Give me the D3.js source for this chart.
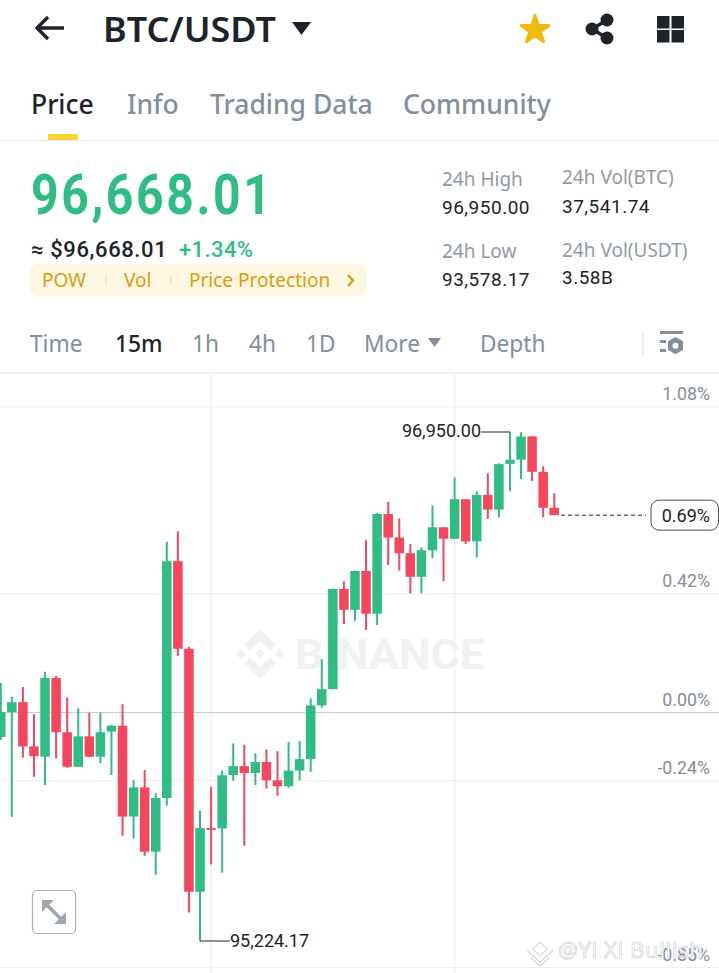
<!DOCTYPE html>
<html>
<head>
<meta charset="utf-8">
<script src="https://cdnjs.cloudflare.com/ajax/libs/d3/7.8.5/d3.min.js"></script>
<style>
  html, body { margin: 0; padding: 0; background: #fff; }
  svg { display: block; }
  text { font-family: "Noto Sans", Roboto, sans-serif; }
  .plot text, .num { font-family: Roboto, "Noto Sans", sans-serif; }
</style>
</head>
<body>
<svg id="app" width="719" height="973"></svg>
<script>
// 15m candles
var opens = [95916,96000,96034,95884,95849,96116,95932,95815,95918,95849,95934,95954,95646,95745,95527,95709,96512,96215,95391,95607,95606,95787,95817,95794,95831,95769,95749,95802,95841,96023,96078,96418,96347,96479,96334,96672,96592,96539,96459,96549,96627,96588,96722,96579,96737,96687,96842,96856,96935,96815,96693];
var closes = [96000,96034,95884,95851,96116,95932,95815,95918,95849,95932,95954,95646,95745,95527,95709,96512,96215,95391,95607,95601,95786,95817,95794,95831,95769,95749,95802,95841,96023,96078,96418,96347,96479,96334,96672,96592,96539,96459,96549,96627,96588,96722,96579,96737,96687,96841,96856,96935,96815,96693,96668.01];
var highs = [96099,96052,96085,95993,96137,96123,96050,96013,95998,95998,95957,96027,95770,95804,95725,96578,96613,96222,95666,95747,95802,95894,95890,95861,95874,95868,95899,95902,96047,96179,96419,96444,96480,96583,96675,96713,96657,96570,96559,96701,96627,96796,96722,96749,96810,96844,96950,96949,96936,96834,96742];
var lows = [95906,95645,95846,95781,95753,95843,95811,95815,95847,95827,95787,95581,95571,95513,95449,95683,96191,95321,95224.17,95484,95456,95768,95547,95753,95741,95717,95744,95769,95798,96015,96078,96299,96310,96279,96295,96499,96480,96403,96403,96522,96444,96588,96570,96524,96655,96661,96749,96790,96784,96661,96668];

var gridPrices = [97037,96404,96000.6,95770,95136];
var gridLabels = ["1.08%","0.42%","0.00%","-0.24%","-0.85%"];
var verticalAt = [19,41];

var tabs = ["Price","Info","Trading Data","Community"];
var tabX = [31,127,210,403];
var intervals = ["Time","15m","1h","4h","1D","More","Depth"];
var intervalX = [30,115,192,249,306,364,480];
var pillItems = ["POW","Vol","Price Protection"];
var pillX = [42,124,189];
var statLabels = ["24h High","24h Low","24h Vol(BTC)","24h Vol(USDT)"];
var statValues = ["96,950.00","93,578.17","37,541.74","3.58B"];

var GREEN = "#2EBD85", RED = "#F6465D", DARK = "#1E2329", GREY = "#848E9C";

var svg = d3.select("#app");

var candles = opens.map(function (o, i) {
    return {i: i, open: o, close: closes[i], high: highs[i], low: lows[i]};
});

// ---- header
var header = svg.append("g");

header.append("path").attr("d", "M64 28H38M48 17L37 28L48 39")
    .attr("fill", "none").attr("stroke", DARK).attr("stroke-width", 3.4);
header.append("text").attr("x", 103).attr("y", 42).text("BTC/USDT")
    .attr("font-size", 34).attr("font-weight", 600).attr("fill", DARK)
    .attr("textLength", 173).attr("lengthAdjust", "spacingAndGlyphs");
header.append("path").attr("d", "M292 22H311L301.5 35Z").attr("fill", DARK);

var star = d3.symbol().type(d3.symbolStar).size(235);
header.append("path").attr("d", star()).attr("transform", "translate(535,30)")
    .attr("fill", "#F0B90B").attr("stroke", "#F0B90B").attr("stroke-width", 3).attr("stroke-linejoin", "round");

var share = header.append("g").attr("fill", DARK);
share.append("path").attr("d", "M607 20L592 29L607 38").attr("fill", "none").attr("stroke", DARK).attr("stroke-width", 3.5);
share.append("circle").attr("cx", 592).attr("cy", 29).attr("r", 6.5);
share.append("circle").attr("cx", 607).attr("cy", 20).attr("r", 6.5);
share.append("circle").attr("cx", 607).attr("cy", 38).attr("r", 6.5);

[[657,16],[671.5,16],[657,30],[671.5,30]].forEach(function (p) {
    header.append("rect").attr("x", p[0]).attr("y", p[1]).attr("width", 12.5).attr("height", 12.5).attr("fill", DARK);
});

// tabs
svg.selectAll(".tab").data(tabs).enter().append("text")
    .attr("class", "tab")
    .attr("x", function (d, i) { return tabX[i]; })
    .attr("y", 114)
    .attr("font-size", 26.5)
    .attr("font-weight", 500)
    .attr("fill", function (d, i) { return i == 0 ? DARK : GREY; })
    .text(function (d) { return d; });
svg.append("rect").attr("x", 48).attr("y", 134).attr("width", 30).attr("height", 6).attr("fill", "#FCD535");
svg.append("rect").attr("x", 0).attr("y", 140).attr("width", 719).attr("height", 1).attr("fill", "#EAECEF");

// price block
svg.append("text").attr("class", "num").text("96,668.01")
    .attr("transform", "translate(31,214) scale(0.86,1)")
    .attr("font-size", 56).attr("font-weight", 700).attr("fill", GREEN)
    .style("letter-spacing", "3px");
svg.append("text").attr("class", "num").attr("x", 31).attr("y", 257).text("≈ $96,668.01")
    .attr("font-size", 22).attr("font-weight", 500).attr("fill", DARK).style("letter-spacing", "0.6px");
svg.append("text").attr("class", "num").attr("x", 179).attr("y", 257).text("+1.34%")
    .attr("font-size", 22).attr("font-weight", 500).attr("fill", GREEN).style("letter-spacing", "0.4px");

svg.append("rect").attr("x", 30).attr("y", 264).attr("width", 337).attr("height", 32).attr("rx", 8).attr("fill", "#FDF6E3");
svg.selectAll(".pill").data(pillItems).enter().append("text")
    .attr("class", "pill")
    .attr("x", function (d, i) { return pillX[i]; })
    .attr("y", 287)
    .attr("font-size", 19)
    .attr("fill", "#D89F0A")
    .text(function (d) { return d; });
[105,170].forEach(function (x) {
    svg.append("rect").attr("x", x).attr("y", 275).attr("width", 1.5).attr("height", 10).attr("fill", "#F3E3B5");
});
svg.append("path").attr("d", "M348 275L353 280.5L348 286").attr("fill", "none").attr("stroke", "#D89F0A").attr("stroke-width", 2.4);

// 24h stats
var statX = [442,442,562,562], statLabelY = [186,258,184,257], statValueY = [214,286,213,284];
svg.selectAll(".statLabel").data(statLabels).enter().append("text")
    .attr("class", "statLabel")
    .attr("x", function (d, i) { return statX[i]; })
    .attr("y", function (d, i) { return statLabelY[i]; })
    .attr("font-size", 19)
    .attr("fill", "#929AA5")
    .text(function (d) { return d; });
svg.selectAll(".statValue").data(statValues).enter().append("text")
    .attr("class", "statValue num")
    .attr("x", function (d, i) { return statX[i]; })
    .attr("y", function (d, i) { return statValueY[i]; })
    .attr("font-size", 19)
    .attr("fill", DARK)
    .style("letter-spacing", "0.5px")
    .text(function (d) { return d; });

// interval row
svg.selectAll(".interval").data(intervals).enter().append("text")
    .attr("class", "interval")
    .attr("x", function (d, i) { return intervalX[i]; })
    .attr("y", 352)
    .attr("font-size", 22.7)
    .attr("font-weight", function (d) { return d == "15m" ? 500 : 400; })
    .attr("fill", function (d) { return d == "15m" ? DARK : GREY; })
    .text(function (d) { return d; });
svg.append("path").attr("d", "M428 338H441L434.5 347Z").attr("fill", GREY);
svg.append("rect").attr("x", 642).attr("y", 331).attr("width", 1.5).attr("height", 24).attr("fill", "#EAECEF");
var gear = svg.append("g");
gear.append("rect").attr("x", 660).attr("y", 331).attr("width", 23).attr("height", 3).attr("fill", GREY);
gear.append("rect").attr("x", 660).attr("y", 340).attr("width", 6).attr("height", 3).attr("fill", GREY);
gear.append("rect").attr("x", 660).attr("y", 349).attr("width", 6).attr("height", 3).attr("fill", GREY);
gear.append("path").attr("d", "M675.5 337L683 341.3V350L675.5 354.3L668 350V341.3Z").attr("fill", GREY);
gear.append("circle").attr("cx", 675.5).attr("cy", 345.7).attr("r", 3).attr("fill", "#fff");
svg.append("rect").attr("x", 0).attr("y", 372).attr("width", 719).attr("height", 2).attr("fill", "#F0F1F2");

// ---- chart
var x = d3.scaleBand().domain(d3.range(opens.length)).range([-5.55, 560.55]).padding(0.14);
var y = d3.scaleLinear().domain([95224.17, 96950]).range([941, 432]);
var cx = function (i) { return x(i) + x.bandwidth() / 2; };

var plot = svg.append("g").attr("class", "plot");

// watermark
var mark = plot.append("g").attr("fill", "#F0F1F2");
mark.selectAll("path").data([
    "M260 629L276 645L270 651L260 641L250 651L244 645Z",
    "M260 679L276 663L270 657L260 667L250 657L244 663Z",
    "M240.7 649L245.7 654L240.7 659L235.7 654Z",
    "M279.7 649L284.7 654L279.7 659L274.7 654Z",
    "M260 649L265 654L260 659L255 654Z"
]).enter().append("path").attr("d", function (d) { return d; });
plot.append("text").attr("x", 295).attr("y", 669).text("BINANCE")
    .attr("font-size", 43).attr("font-weight", 700).attr("fill", "#F0F1F2")
    .attr("textLength", 190).attr("lengthAdjust", "spacingAndGlyphs");

// vertical grid
plot.selectAll(".vgrid").data(verticalAt).enter().append("line")
    .attr("class", "vgrid")
    .attr("x1", cx).attr("x2", cx)
    .attr("y1", 374).attr("y2", 973)
    .attr("stroke", "#F0F1F2").attr("stroke-width", 1.5);

// horizontal grid + percent labels come from the axis
var yAxis = d3.axisLeft(y)
    .tickValues(gridPrices)
    .tickSize(0)
    .tickPadding(9)
    .tickFormat(function (d, i) { return gridLabels[i]; });
var axisG = plot.append("g").attr("transform", "translate(719,0)").call(yAxis);
axisG.select(".domain").remove();
axisG.selectAll(".tick line")
    .attr("x2", -719)
    .attr("stroke", function (d) { return d == 96000.6 ? "#C9CCD8" : "#EEF0F2"; })
    .attr("stroke-width", 1.2);
axisG.selectAll(".tick text")
    .attr("dy", -7)
    .attr("font-size", 17.8)
    .attr("font-family", "Roboto, sans-serif")
    .attr("fill", GREY);

// wicks and bodies
var candle = plot.selectAll(".candle").data(candles).enter().append("g").attr("class", "candle");
candle.append("line")
    .attr("x1", function (d) { return cx(d.i); })
    .attr("x2", function (d) { return cx(d.i); })
    .attr("y1", function (d) { return y(d.high); })
    .attr("y2", function (d) { return y(d.low); })
    .attr("stroke", function (d) { return d.close >= d.open ? GREEN : RED; })
    .attr("stroke-width", 2);
candle.append("rect")
    .attr("x", function (d) { return x(d.i); })
    .attr("width", x.bandwidth())
    .attr("y", function (d) { return y(Math.max(d.open, d.close)); })
    .attr("height", function (d) { return Math.max(1.5, Math.abs(y(d.open) - y(d.close))); })
    .attr("fill", function (d) { return d.close >= d.open ? GREEN : RED; });

// high / low leaders
var hi = d3.max(highs), lo = d3.min(lows);
var hiIdx = highs.indexOf(hi), loIdx = lows.indexOf(lo);
plot.append("line").attr("x1", 481).attr("x2", cx(hiIdx)).attr("y1", y(hi)).attr("y2", y(hi)).attr("stroke", DARK).attr("stroke-width", 1);
plot.append("text").attr("x", 481).attr("y", y(hi) + 5).attr("text-anchor", "end").attr("font-size", 18).attr("fill", DARK)
    .text(d3.format(",.2f")(hi));
plot.append("line").attr("x1", cx(loIdx)).attr("x2", 230).attr("y1", y(lo)).attr("y2", y(lo)).attr("stroke", DARK).attr("stroke-width", 1);
plot.append("text").attr("x", 230).attr("y", y(lo) + 6).attr("font-size", 18).attr("fill", DARK)
    .text(d3.format(",.2f")(lo));

// last price
var last = closes[closes.length - 1];
plot.append("line").attr("x1", 561).attr("x2", 646).attr("y1", y(last)).attr("y2", y(last))
    .attr("stroke", DARK).attr("stroke-width", 1).attr("stroke-dasharray", "4 3");
plot.append("rect").attr("x", 651).attr("y", y(last) - 15).attr("width", 67.5).attr("height", 30).attr("rx", 8)
    .attr("fill", "#fff").attr("stroke", "#474D57").attr("stroke-width", 1);
plot.append("text").attr("x", 710).attr("y", y(last) + 7).attr("text-anchor", "end").attr("font-size", 18).attr("fill", DARK)
    .text("0.69%");

// fullscreen button
var btn = plot.append("g");
btn.append("rect").attr("x", 32.5).attr("y", 890.5).attr("width", 43).attr("height", 43).attr("rx", 4)
    .attr("fill", "#fff").attr("stroke", "#AEB4BC").attr("stroke-width", 1.2);
btn.append("path").attr("d", "M42 900H54L42 912ZM66 924H54L66 912Z").attr("fill", "#9FA6B0");
btn.append("path").attr("d", "M47 905L61 919").attr("stroke", "#9FA6B0").attr("stroke-width", 3.5);

// image watermark, bottom right
var wm = svg.append("g");
wm.append("path").attr("d", "M540 942L547 949L540 956L533 949ZM527 950L533 956L540 962L547 956L553 950M531 958L540 966L549 958")
    .attr("fill", "none").attr("stroke", "#D5D7DA").attr("stroke-width", 1.2);
wm.append("text").attr("x", 558).attr("y", 958).text("@Yi Xi Bullish")
    .attr("font-size", 22).attr("fill", "#fff").attr("stroke", "#C9CBCF").attr("stroke-width", 0.6)
    .style("letter-spacing", "0.6px");
</script>
</body>
</html>
